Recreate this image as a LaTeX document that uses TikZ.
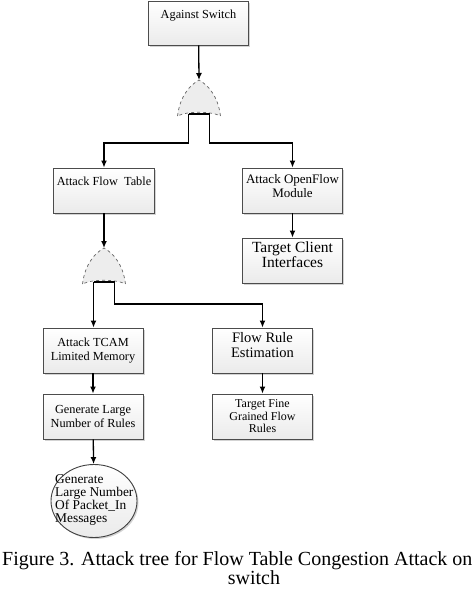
\documentclass[tikz,border=0pt]{standalone}
\usepackage{fontspec}
\setmainfont{Liberation Serif}
\usetikzlibrary{arrows.meta, shapes.geometric, shadows}
% OR gate, drawn from its tip
\def\orgate{(-21.5,36) .. controls (-19,16) and (-9,5) .. (0,0) .. controls (9,5) and (19,16) .. (21.5,36) .. controls (12,31) and (-12,31) .. cycle}
\tikzset{
	tbox/.style={draw=black!70, line width=0.9pt, minimum width=100pt, minimum height=45pt, align=center,
		top color=white, bottom color=black!8, font=\fontsize{12.3}{14}\selectfont,
		drop shadow={shadow xshift=1.5pt, shadow yshift=-1.5pt, opacity=0.35}},
	leaf/.style={ellipse, draw=black!75, line width=0.9pt, minimum width=86pt, minimum height=73pt,
		top color=white, bottom color=black!8,
		drop shadow={shadow xshift=1.5pt, shadow yshift=-1.5pt, opacity=0.35}},
	gate/.style={draw=black!60, dashed, line width=0.7pt, fill=black!7},
	arr/.style={-{Latex[length=7pt,width=6pt]}, line width=1.3pt}
}
\begin{document}
\begin{tikzpicture}[x=1pt, y=-1pt]
	\useasboundingbox (0,0) rectangle (474,590);
	% boxes
	\node[tbox, minimum height=44pt] (sw) at (198.5,23) {Against Switch\\\strut};
	\node[tbox] (aft) at (104,190.5) {Attack Flow~~Table\\\strut};
	\node[tbox, font=\fontsize{13}{14}\selectfont] (aom) at (292.5,190.5) {Attack OpenFlow\\Module\\[-4pt]};
	\node[tbox, font=\fontsize{15.5}{15}\selectfont] (tci) at (292.5,260.5) {Target Client\\Interfaces\\[-3pt]};
	\node[tbox] (tcam) at (93,350.5) {Attack TCAM\\Limited Memory};
	\node[tbox, font=\fontsize{14.5}{15}\selectfont] (fre) at (262.5,350.5) {Flow Rule\\Estimation\\[-3pt]};
	\node[tbox] (gln) at (93,416.5) {Generate Large\\Number of Rules};
	\node[tbox, font=\fontsize{12}{12.5}\selectfont] (tfg) at (262.5,416.5) {Target Fine\\Grained Flow\\Rules};
	\node[leaf] (pkt) at (94,501) {};
	\node[anchor=west, align=left, inner sep=0pt, font=\fontsize{13.4}{13.3}\selectfont] (pkttext) at (55,500) {Generate\\Large Number\\Of Packet\_In\\Messages};
	% gates
	\draw[gate, shift={(199,80)}] \orgate;
	\coordinate (g1) at (199,80);
	\coordinate (g1l) at (188.5,114);
	\coordinate (g1r) at (209.5,114);
	\draw[gate, shift={(104,248)}] \orgate;
	\coordinate (g2) at (104,248);
	\coordinate (g2l) at (93.5,282);
	\coordinate (g2r) at (114.5,282);
	% connectors
	\draw[arr] (sw) -- (g1);
	\draw[line width=1.3pt] (g1l) -- (g1r);
	\draw[arr] (g1l) -- ++(0,29) -| (aft.north);
	\draw[arr] (g1r) -- ++(0,29) -| (aom.north);
	\draw[arr] (aft) -- (g2);
	\draw[arr] (aom) -- (tci);
	\draw[line width=1.3pt] (g2l) -- (g2r);
	\draw[arr] (g2l) -- (g2l |- tcam.north);
	\draw[arr] (g2r) -- ++(0,22) -| (fre.north);
	\draw[arr] (tcam) -- (gln);
	\draw[arr] (fre) -- (tfg);
	\draw[arr] (gln) -- (pkt);
	% caption
	\node[anchor=west, inner sep=0pt, font=\fontsize{20}{22}\selectfont] (cap) at (2,561) {Figure 3. Attack tree for Flow Table Congestion Attack on};
	\node[inner sep=0pt, font=\fontsize{20}{22}\selectfont] (cap2) at (254,578) {switch};
\end{tikzpicture}
\end{document}
